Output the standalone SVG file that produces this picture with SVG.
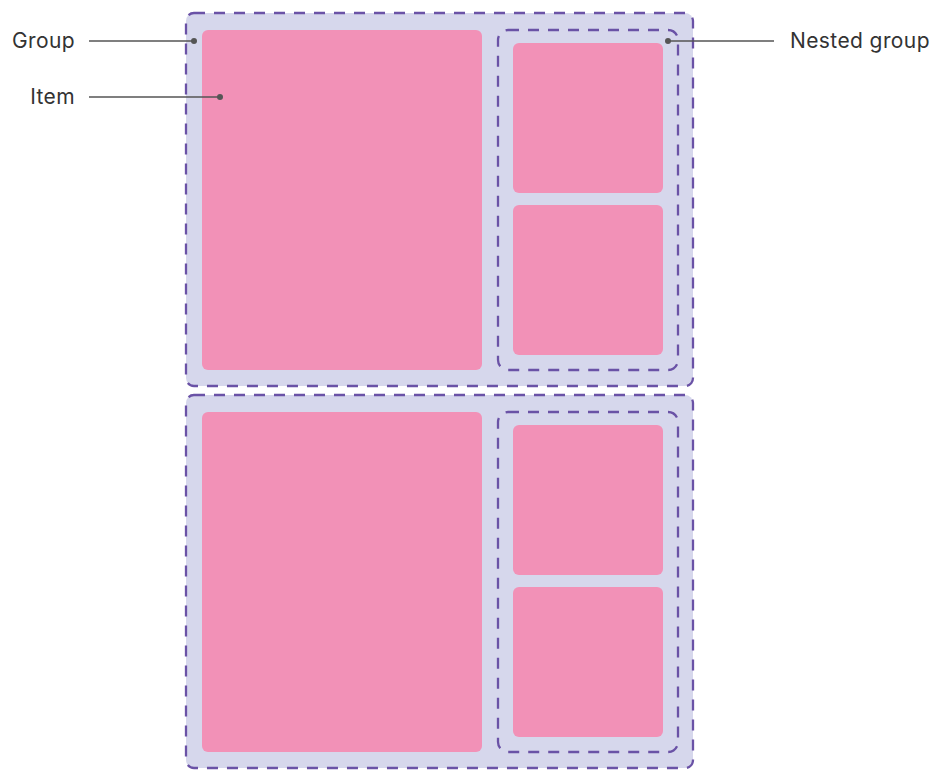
<svg xmlns="http://www.w3.org/2000/svg" width="941" height="782" viewBox="0 0 941 782">
<style>
.grp{fill:#d6d7ec;stroke:#6a52a6;stroke-width:2.3;stroke-dasharray:11 9}
.nest{fill:none;stroke:#6a52a6;stroke-width:2.3;stroke-dasharray:11 9}
.item{fill:#f291b7}
.lbl{font-family:Inter,"Liberation Sans",sans-serif;font-size:21px;letter-spacing:0.4px;fill:#333}
.ln{stroke:#555;stroke-width:1.6;fill:none}
.dot{fill:#555}
</style>
<rect width="941" height="782" fill="#fff"/>
<g id="group1">
<rect class="grp" x="186" y="13" width="507" height="373" rx="8"/>
<rect class="item" x="202" y="30" width="280" height="340" rx="6"/>
<g id="nested1">
<rect class="nest" x="498" y="30" width="180" height="340" rx="10"/>
<rect class="item" x="513" y="43" width="150" height="150" rx="6"/>
<rect class="item" x="513" y="205" width="150" height="150" rx="6"/>
</g>
</g>
<g id="group2">
<rect class="grp" x="186" y="395" width="507" height="373" rx="8"/>
<rect class="item" x="202" y="412" width="280" height="340" rx="6"/>
<g id="nested2">
<rect class="nest" x="498" y="412" width="180" height="340" rx="10"/>
<rect class="item" x="513" y="425" width="150" height="150" rx="6"/>
<rect class="item" x="513" y="587" width="150" height="150" rx="6"/>
</g>
</g>
<g id="connectors">
<line class="ln" x1="89" y1="41" x2="194" y2="41"/>
<circle class="dot" cx="194" cy="41" r="3"/>
<line class="ln" x1="89" y1="97" x2="220" y2="97"/>
<circle class="dot" cx="220" cy="97" r="3"/>
<line class="ln" x1="668" y1="41" x2="774" y2="41"/>
<circle class="dot" cx="668" cy="41" r="3"/>
</g>
<g id="labels">
<text class="lbl" x="75" y="48" text-anchor="end">Group</text>
<text class="lbl" x="75" y="104" text-anchor="end">Item</text>
<text class="lbl" x="790" y="48">Nested group</text>
</g>
</svg>
